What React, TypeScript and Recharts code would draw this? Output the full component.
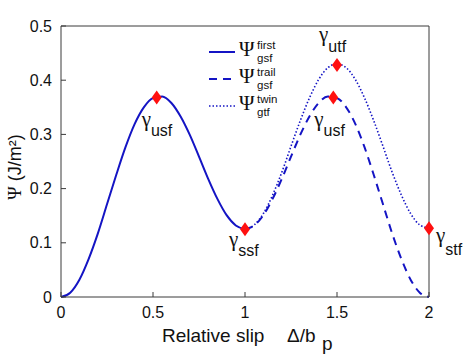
import { ComposedChart, Line, Scatter, XAxis, YAxis, Legend } from 'recharts'

// relative slip (Δ/b_p) sample positions
const firstX = [0, 0.05, 0.1, 0.15, 0.2, 0.25, 0.3, 0.35, 0.4, 0.45, 0.5, 0.55, 0.6, 0.65, 0.7, 0.75, 0.8, 0.85, 0.9, 0.95, 1]
const secondX = [1, 1.05, 1.1, 1.15, 1.2, 1.25, 1.3, 1.35, 1.4, 1.45, 1.5, 1.55, 1.6, 1.65, 1.7, 1.75, 1.8, 1.85, 1.9, 1.95, 2]

// Ψ (J/m²)
const firstGsf = [0, 0.008, 0.032, 0.07, 0.117, 0.171, 0.225, 0.276, 0.319, 0.35, 0.367, 0.37, 0.358, 0.333, 0.299, 0.259, 0.218, 0.181, 0.151, 0.132, 0.125]
const trailGsf = [0.125, 0.132, 0.151, 0.181, 0.218, 0.259, 0.299, 0.333, 0.358, 0.37, 0.367, 0.35, 0.319, 0.276, 0.225, 0.171, 0.117, 0.07, 0.032, 0.008, 0]
const twinGtf = [0.125, 0.133, 0.154, 0.188, 0.23, 0.278, 0.325, 0.367, 0.401, 0.423, 0.43, 0.423, 0.401, 0.367, 0.325, 0.278, 0.23, 0.188, 0.154, 0.133, 0.127]

// characteristic energies (markers)
const markerX = [0.52, 1, 1.48, 1.5, 2]
const markerY = [0.368, 0.125, 0.368, 0.428, 0.127]
const markerLabels = ['usf', 'ssf', 'usf', 'utf', 'stf']

// legend text
const seriesSup = ['first', 'trail', 'twin']
const seriesSub = ['gsf', 'gsf', 'gtf']

const xTicks = [0, 0.5, 1, 1.5, 2]
const yTicks = [0, 0.1, 0.2, 0.3, 0.4, 0.5]

const toPoints = (xs: number[], ys: number[]) => xs.map((x, i) => ({ x, y: ys[i] }))
const firstData = toPoints(firstX, firstGsf)
const trailData = toPoints(secondX, trailGsf)
const twinData = toPoints(secondX, twinGtf)
const markerData = markerX.map((x, i) => ({ x, y: markerY[i], label: markerLabels[i], idx: i }))

const BLUE = '#1414c4'
const AXIS = '#3a3a3a'
const SANS = '"Liberation Sans", Arial, sans-serif'
const SERIF = '"Liberation Serif", "Times New Roman", serif'

// gamma label placement relative to each marker: [dx, dy of γ baseline, subscript drop]
const labelOffsets = [
  [-15, 28, 10],
  [-16, 17, 10],
  [-19, 28, 10],
  [-18, -24, 11],
  [7, 14, 13],
]

const Marker = (props: any) => {
  const { cx, cy, payload } = props
  const [dx, dy, sub] = labelOffsets[payload.idx]
  return (
    <g>
      <path d={`M${cx},${cy - 7}L${cx + 5},${cy}L${cx},${cy + 7}L${cx - 5},${cy}Z`} fill="#ff1010" />
      <text x={cx + dx} y={cy + dy} fill="#111" fontFamily={SERIF} fontSize={21}>
        γ
        <tspan dy={sub} fontFamily={SANS} fontSize={16}>
          {payload.label}
        </tspan>
      </text>
    </g>
  )
}

const LegendBox = (props: any) => {
  const entries = (props.payload || []).filter((e: any) => seriesSup.includes(e.value))
  return (
    <svg width={80} height={84} style={{ overflow: 'visible' }}>
      {entries.map((entry: any) => {
        const i = seriesSup.indexOf(entry.value)
        const y = 14 + i * 27
        return (
          <g key={entry.value}>
            <line
              x1={4}
              x2={30}
              y1={y}
              y2={y}
              stroke={BLUE}
              strokeWidth={entry.payload?.strokeWidth || 2}
              strokeDasharray={entry.payload?.strokeDasharray}
            />
            <text x={34} y={y + 4} fontFamily={SERIF} fontSize={21} fill="#111">
              Ψ
            </text>
            <text x={52} y={y - 3} fontFamily={SANS} fontSize={11.5} fill="#111">
              {seriesSup[i]}
            </text>
            <text x={52} y={y + 10} fontFamily={SANS} fontSize={11.5} fill="#111">
              {seriesSub[i]}
            </text>
          </g>
        )
      })}
    </svg>
  )
}

const XTitle = () => (
  <g fontFamily={SANS} fontSize={19} fill="#111">
    <text x={162} y={342}>Relative slip</text>
    <text x={287} y={342}>Δ/b</text>
    <text x={322} y={350}>p</text>
  </g>
)

const YTitle = () => (
  <text
    x={15}
    y={167}
    transform="rotate(-90, 15, 167)"
    textAnchor="middle"
    dominantBaseline="central"
    fontFamily={SANS}
    fontSize={18}
    fill="#111"
  >
    <tspan fontFamily={SERIF}>Ψ</tspan> (J/m²)
  </text>
)

const emptyTick = () => <g />

export default function App() {
  return (
    <div style={{ position: 'absolute', left: 0, top: 0, width: 474, height: 355, background: '#fff' }}>
      <ComposedChart width={474} height={355} margin={{ top: 25, right: 44, bottom: 57, left: 60 }}>
        <XAxis
          xAxisId="b"
          type="number"
          dataKey="x"
          domain={[0, 2]}
          ticks={xTicks}
          height={1}
          tickSize={-5}
          tickMargin={15}
          stroke={AXIS}
          tick={{ fill: '#111', fontSize: 16, fontFamily: SANS }}
          label={{ content: XTitle }}
        />
        <XAxis
          xAxisId="t"
          orientation="top"
          type="number"
          dataKey="x"
          domain={[0, 2]}
          ticks={xTicks}
          height={1}
          tickSize={-5}
          stroke={AXIS}
          tick={emptyTick}
        />
        <YAxis
          yAxisId="l"
          type="number"
          domain={[0, 0.5]}
          ticks={yTicks}
          width={1}
          tickSize={-5}
          tickMargin={14}
          stroke={AXIS}
          tick={{ fill: '#111', fontSize: 16, fontFamily: SANS }}
          label={{ content: YTitle }}
        />
        <YAxis
          yAxisId="r"
          orientation="right"
          type="number"
          domain={[0, 0.5]}
          ticks={yTicks}
          width={1}
          tickSize={-5}
          stroke={AXIS}
          tick={emptyTick}
        />
        <Legend
          content={LegendBox}
          layout="horizontal"
          verticalAlign="middle"
          align="center"
          wrapperStyle={{ left: 205, top: 38, width: 80, height: 84 }}
        />
        <Line
          xAxisId="b"
          yAxisId="l"
          name="first"
          data={firstData}
          dataKey="y"
          type="monotone"
          stroke={BLUE}
          strokeWidth={2}
          dot={false}
          activeDot={false}
          isAnimationActive={false}
        />
        <Line
          xAxisId="b"
          yAxisId="l"
          name="trail"
          data={trailData}
          dataKey="y"
          type="monotone"
          stroke={BLUE}
          strokeWidth={2}
          strokeDasharray="8 6"
          dot={false}
          activeDot={false}
          isAnimationActive={false}
        />
        <Line
          xAxisId="b"
          yAxisId="l"
          name="twin"
          data={twinData}
          dataKey="y"
          type="monotone"
          stroke={BLUE}
          strokeWidth={1.6}
          strokeDasharray="1.5 2"
          dot={false}
          activeDot={false}
          isAnimationActive={false}
        />
        <Scatter
          xAxisId="b"
          yAxisId="l"
          name="markers"
          legendType="none"
          data={markerData}
          dataKey="y"
          shape={Marker}
          isAnimationActive={false}
        />
      </ComposedChart>
    </div>
  )
}
